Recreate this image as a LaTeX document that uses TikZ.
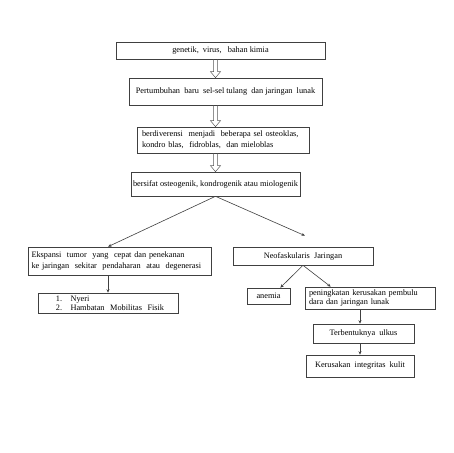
\documentclass[tikz,border=0pt]{standalone}
\usepackage{fontspec}
\setmainfont{Liberation Serif}
\usetikzlibrary{calc,arrows.meta}
\tikzset{
  kotak/.style={draw=black!75,line width=0.6pt,rectangle,inner sep=2pt,font=\fontsize{8.3}{11}\selectfont},
  panah/.style={draw=black!75,line width=0.6pt,-{Stealth[length=3.5pt,width=3pt]}},
  tebal/.style={draw=black!65,line width=0.5pt}
}
\begin{document}
\begin{tikzpicture}[x=1pt,y=-1pt]
   \useasboundingbox[fill=white] (0,0) rectangle (453,453);
   %alur utama
   \node[kotak,minimum width=209pt,minimum height=17pt] (gen) at (220.5,50.5) {genetik,\ \ virus,\ \ \ bahan kimia};
   \node[kotak,minimum width=193pt,minimum height=27pt] (tum) at (225.5,91.5) {Pertumbuhan\ \ baru\ \ sel-sel\ tulang\ \ dan\ jaringan\ \ lunak};
   \node[kotak,minimum width=172pt,minimum height=26pt,text width=162pt,align=left] (dif) at (223,140) {berdiverensi\ \ menjadi\ \ beberapa sel osteoklas,\\ kondro blas,\ \ fidroblas,\ \ dan mieloblas};
   \node[kotak,minimum width=169pt,minimum height=24pt,inner xsep=1pt] (sif) at (215.5,184) {bersifat\ osteogenik,\ kondrogenik\ atau\ miologenik};
   %panah tebal
   \foreach \a/\b in {gen/tum,tum/dif,dif/sif}
      \draw[tebal] let \p1=(\a.south -| sif.south), \p2=(\b.north -| sif.south) in
         (\x1-2,\y1) -- (\x1-2,\y2+6) -- (\x1-5,\y2+6) -- (\x1,\y2) -- (\x1+5,\y2+6) -- (\x1+2,\y2+6) -- (\x1+2,\y1);
   %cabang kiri
   \node[kotak,minimum width=183pt,minimum height=28pt,text width=176pt,align=left] (eks) at (119.5,261) {Ekspansi\ \ tumor\ \ yang\ \ cepat dan penekanan\\ ke jaringan\ \ sekitar\ \ pendaharan\ \ atau\ \ degenerasi};
   \node[kotak,minimum width=140pt,minimum height=20pt,text width=128pt,align=left,font=\fontsize{8.3}{9}\selectfont] (dx) at (108,303) {\hspace*{12pt}1.\ \ \ Nyeri\\ \hspace*{12pt}2.\ \ \ Hambatan\ \ Mobilitas\ \ Fisik};
   %cabang kanan
   \node[kotak,minimum width=140pt,minimum height=18pt] (neo) at (303,256) {Neofaskularis\ \ Jaringan};
   \node[kotak,minimum width=43pt,minimum height=16pt] (ane) at (268.5,296) {anemia};
   \node[kotak,minimum width=130pt,minimum height=22pt,text width=122pt,align=left,font=\fontsize{8.3}{8.5}\selectfont] (pen) at (370,298) {peningkatan\ kerusakan pembulu\\ dara dan jaringan\ lunak};
   \node[kotak,minimum width=101pt,minimum height=19pt] (ulk) at (363.5,333.5) {Terbentuknya\ \ ulkus};
   \node[kotak,minimum width=108pt,minimum height=22pt] (kul) at (360,366) {Kerusakan\ \ integritas\ \ kulit};
   %garis
   \coordinate (pk) at (sif.south);
   \coordinate (ujung) at ($(neo.north)+(2,-11)$);
   \draw[panah] (pk) -- (eks.north -| dx.north);
   \draw[panah] (pk) -- (ujung);
   \draw[panah] (eks.south -| dx.north) -- (dx.north);
   \draw[panah] (neo.south) -- ($(ane.north east)+(-10,0)$);
   \draw[panah] (neo.south) -- ($(pen.north west)+(26,0)$);
   \draw[panah] (pen.south -| kul.north) -- (ulk.north -| kul.north);
   \draw[panah] (ulk.south -| kul.north) -- (kul.north);
\end{tikzpicture}
\end{document}
